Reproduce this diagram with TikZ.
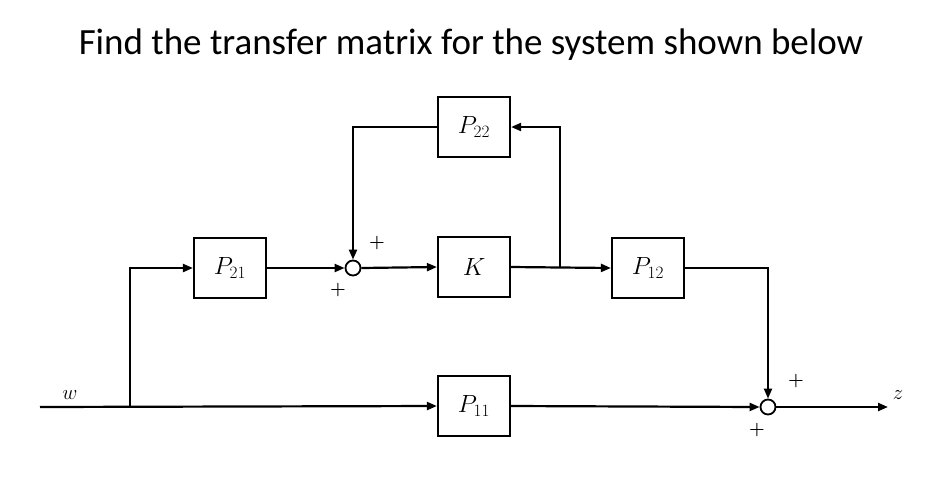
\documentclass[tikz,border=0pt]{standalone}
\usepackage{fontspec}
\newfontfamily\titlefont{Carlito}
\usetikzlibrary{arrows.meta}
\begin{document}
\begin{tikzpicture}[x=1pt,y=-1pt,
  blk/.style={draw,line width=2.2pt,minimum width=72pt,minimum height=60pt,inner sep=0pt,font=\fontsize{25}{30}\selectfont},
  sum/.style={draw,circle,line width=1.8pt,minimum size=15pt,inner sep=0pt},
  ln/.style={line width=2.2pt},
  ar/.style={ln,-{Triangle[length=10pt,width=8pt]}},
  pl/.style={font=\bfseries\fontsize{18}{20}\selectfont}]
\useasboundingbox (0,0) rectangle (944,488);
\node[font=\titlefont\fontsize{37}{44}\selectfont] (title) at (471,45) {Find the transfer matrix for the system shown below};
\node[blk] (P22) at (474,127) {$P_{22}$};
\node[blk] (K) at (474,267) {$K$};
\node[blk] (P21) at (230,268) {$P_{21}$};
\node[blk] (P12) at (648,268) {$P_{12}$};
\node[blk] (P11) at (474,406) {$P_{11}$};
\node[sum] (s1) at (353,268) {};
\node[sum] (s2) at (768,407) {};
\node[font=\fontsize{22}{24}\selectfont] (w) at (70,395) {$w$};
\node[font=\fontsize{22}{24}\selectfont] (z) at (898,395) {$z$};
\coordinate (wst) at (40,407);
\coordinate (b1) at (130,407);
\coordinate (b2) at (560,267);
\coordinate (zend) at (888,407);
\draw[ar] (wst) -- (P11.west);
\draw[ar] (b1) |- (P21.west);
\draw[ar] (P21.east) -- (s1.west);
\draw[ar] (s1.east) -- (K.west);
\draw[ar] (K.east) -- (P12.west);
\draw[ar] (b2) |- (P22.east);
\draw[ar] (P22.west) -| (s1.north);
\draw[ar] (P12.east) -| (s2.north);
\draw[ar] (P11.east) -- (s2.west);
\draw[ar] (s2.east) -- (zend);
\node[pl] (p1) at (377,243) {+};
\node[pl] (p2) at (338,290) {+};
\node[pl] (p3) at (796,381) {+};
\node[pl] (p4) at (757,430) {+};
\end{tikzpicture}
\end{document}
